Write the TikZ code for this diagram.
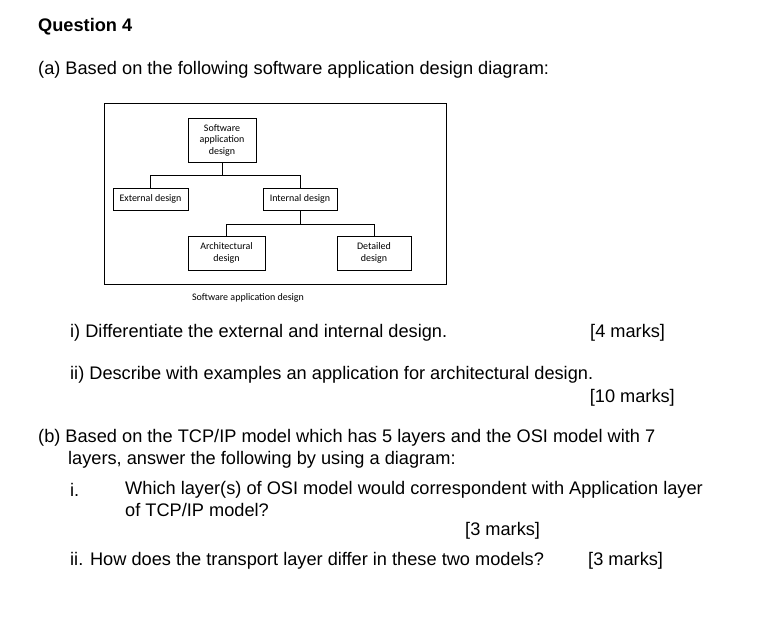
\documentclass[tikz,border=0pt]{standalone}
\usepackage{fontspec}
\setmainfont{Liberation Sans}
\newfontfamily\diafont{Carlito}
\begin{document}
\begin{tikzpicture}[x=1pt,y=-1pt,
  txt/.style={anchor=west,inner sep=0pt,font=\fontsize{18.2}{21}\selectfont},
  box/.style={draw,thin,inner sep=0pt,align=center,font=\diafont\fontsize{10}{11.5}\selectfont},
  conn/.style={draw,thin}]
\useasboundingbox[fill=white] (0,0) rectangle (758,625);
\node[txt,font=\bfseries\fontsize{18.2}{21}\selectfont] (q) at (38,27) {Question 4};
\node[txt] (a) at (38,70) {(a) Based on the following software application design diagram:};
\draw[thin] (104,103) rectangle (446,284);
\node[box,minimum width=68,minimum height=44] (sad) at (222,140) {Software\\application\\design};
\node[box,minimum width=75,minimum height=22] (ext) at (150.5,199) {External design};
\node[box,minimum width=74,minimum height=22] (int) at (300,199) {Internal design};
\node[box,minimum width=77,minimum height=34] (arc) at (226.5,253) {Architectural\\design};
\node[box,minimum width=74,minimum height=34] (det) at (374,253) {Detailed\\design};
\draw[conn] (sad.south) -- ++(0,13) -| (ext.north);
\draw[conn] (sad.south) ++(0,13) -| (int.north);
\draw[conn] (int.south) -- ++(0,14) -| (arc.north);
\draw[conn] (int.south) ++(0,14) -| (det.north);
\node[font=\diafont\fontsize{10}{11.5}\selectfont] (cap) at (248,298) {Software application design};
\node[txt] (i1) at (70,333) {i) Differentiate the external and internal design.};
\node[txt] (m1) at (590,333) {[4 marks]};
\node[txt] (i2) at (70,375) {ii) Describe with examples an application for architectural design.};
\node[txt,anchor=east] (m2) at (675,398) {[10 marks]};
\node[txt] (b1) at (38,438) {(b) Based on the TCP/IP model which has 5 layers and the OSI model with 7};
\node[txt] (b2) at (68,460) {layers, answer the following by using a diagram:};
\node[txt] (bi) at (70,490) {i.};
\node[txt] (bi1) at (125,490) {Which layer(s) of OSI model would correspondent with Application layer};
\node[txt] (bi2) at (125,510) {of TCP/IP model?};
\node[txt] (m3) at (465,531) {[3 marks]};
\node[txt] (bii) at (70,561) {ii. How does the transport layer differ in these two models?};
\node[txt] (m4) at (588,561) {[3 marks]};
\end{tikzpicture}
\end{document}
